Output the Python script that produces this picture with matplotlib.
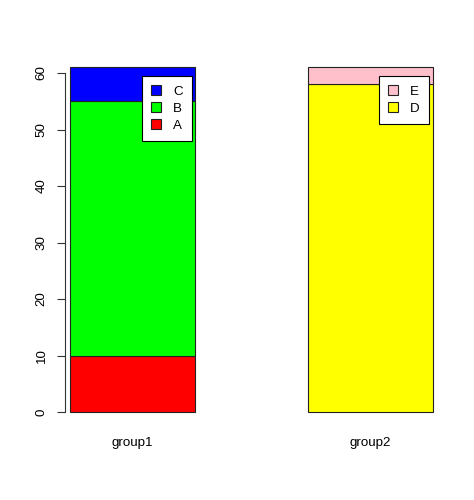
import matplotlib.pyplot as plt
from matplotlib.patches import Patch

plt.rcParams['font.family'] = ['Liberation Sans', 'DejaVu Sans']

groups = ["group1", "group2"]
group1_labels = ["A", "B", "C"]
group1_values = [10, 45, 6]
group1_colors = ["#ff0000", "#00ff00", "#0000ff"]
group2_labels = ["D", "E"]
group2_values = [58, 3]
group2_colors = ["#ffff00", "#ffc0cb"]
yticks = [0, 10, 20, 30, 40, 50, 60]

W, H = 474, 500
fig = plt.figure(figsize=(W / 100, H / 100), dpi=100)
# axes placed in pixel coords, like R's plot region
left, right, top, bottom = 65, 437, 53.6, 425.8
ax = fig.add_axes([left / W, 1 - bottom / H, (right - left) / W, (bottom - top) / H])

centers = [0.5, 2.4]
width = 1.0
fs = 9.6


def stack(ax, x, values, colors, labels):
    base = 0
    handles = []
    for v, c, lab in zip(values, colors, labels):
        ax.bar(x, v, width=width, bottom=base, color=c, edgecolor="#222222",
               linewidth=0.8)
        handles.append(Patch(facecolor=c, edgecolor="#222222", linewidth=0.8,
                             label=lab))
        base += v
    return handles


h1 = stack(ax, centers[0], group1_values, group1_colors, group1_labels)
h2 = stack(ax, centers[1], group2_values, group2_colors, group2_labels)

ax.set_xlim(-0.04, 2.936)
ax.set_ylim(-2.44, 63.44)

for s in ["top", "right", "bottom"]:
    ax.spines[s].set_visible(False)
ax.spines["left"].set_bounds(0, 60)
ax.spines["left"].set_color("#333333")
ax.set_yticks(yticks)
ax.set_yticklabels([str(t) for t in yticks], rotation=90, va="center")
ax.tick_params(axis="y", length=6, width=0.8, color="#333333", pad=6.5,
               labelsize=fs)
ax.set_xticks(centers)
ax.set_xticklabels(groups)
ax.tick_params(axis="x", length=0, pad=8, labelsize=fs)

leg_kw = dict(loc="upper right", frameon=True, fancybox=False, fontsize=fs,
              handlelength=0.75, handleheight=0.75, handletextpad=0.9,
              labelspacing=0.33, borderpad=0.7, borderaxespad=0,
              edgecolor="black", framealpha=1)
leg1 = ax.legend(handles=h1[::-1], bbox_to_anchor=(0.976, 59.5),
                 bbox_transform=ax.transData, **leg_kw)
leg1.get_frame().set_linewidth(0.8)
ax.add_artist(leg1)
leg2 = ax.legend(handles=h2[::-1], bbox_to_anchor=(2.872, 59.5),
                 bbox_transform=ax.transData, **leg_kw)
leg2.get_frame().set_linewidth(0.8)

fig.savefig("out.png", dpi=100)
